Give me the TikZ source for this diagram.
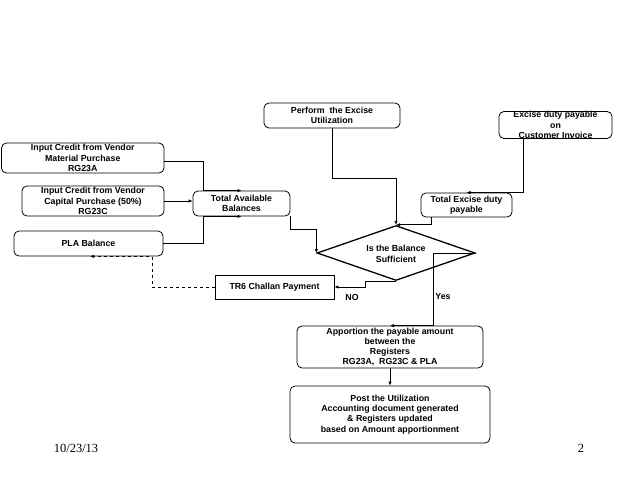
\documentclass[tikz,border=0pt]{standalone}
\usepackage{fontspec}
\setmainfont{Liberation Serif}
\newfontfamily\arialf{Liberation Sans}
\usetikzlibrary{arrows.meta,shapes.geometric,calc}
\tikzset{
  txt/.style={font=\arialf\bfseries\fontsize{8.8}{10.3}\selectfont, align=center, inner sep=0pt},
  rbox/.style={txt, draw, rounded corners=5pt, line width=0.8pt},
  sbox/.style={txt, draw, line width=0.8pt},
  dbox/.style={txt, draw, diamond, aspect=2.87, line width=1.3pt},
  conn/.style={line width=0.8pt, -{Latex[length=4pt,width=3.5pt]}},
  foot/.style={font=\fontsize{12.5}{14}\selectfont, inner sep=0pt}
}
\begin{document}
\begin{tikzpicture}[x=1pt,y=1pt]
\useasboundingbox (0,0) rectangle (638,-479);
% boxes
\node[rbox, minimum width=162.5pt, minimum height=30pt] (mat) at (82.75,-158) {Input Credit from Vendor\\Material Purchase\\RG23A};
\node[rbox, minimum width=142pt, minimum height=30pt] (cap) at (93,-201) {Input Credit from Vendor\\Capital Purchase (50\%)\\RG23C};
\node[rbox, minimum width=149pt, minimum height=25pt] (pla) at (88.5,-243.5) {PLA Balance};
\node[rbox, minimum width=97pt, minimum height=25pt] (tot) at (241.5,-203.5) {Total Available\\Balances};
\node[rbox, minimum width=136pt, minimum height=25pt] (perf) at (332,-115.5) {Perform \ the Excise\\Utilization};
\node[rbox, minimum width=113pt, minimum height=26pt] (cust) at (555.5,-125) {Excise duty payable\\on\\Customer Invoice};
\node[rbox, minimum width=91pt, minimum height=24pt] (texc) at (466.5,-205) {Total Excise duty\\payable};
\node[draw, diamond, line width=1.3pt, minimum width=158pt, minimum height=55pt, inner sep=0pt] (dia) at (396,-253) {};
\node[txt] (diat) at (396,-254) {Is the Balance\\Sufficient};
\node[sbox, minimum width=119pt, minimum height=24pt] (tr6) at (274.5,-287) {TR6 Challan Payment};
\node[rbox, minimum width=186pt, minimum height=42pt] (app) at (390,-347) {Apportion the payable amount\\between the\\Registers\\RG23A, \ RG23C \& PLA};
\node[rbox, minimum width=200pt, minimum height=57pt] (post) at (390,-414.5) {Post the Utilization\\Accounting document generated\\\& Registers updated\\based on Amount apportionment};
% labels
\node[txt] (no) at (352,-297) {NO};
\node[txt] (yes) at (443,-297) {Yes};
% connectors
\draw[conn] ([yshift=-3pt]mat.east) -| ([xshift=-38pt]tot.north) -- (tot.north);
\draw[conn] (cap.east) -- (cap.east -| tot.west);
\draw[conn] (pla.east) -| ([xshift=-38pt]tot.south) -- (tot.south);
\draw[conn] (tot.south east) -- ++(0,-13) -| (dia.west);
\draw[conn] (perf.south) -- ++(0,-50) -| (dia.north);
\draw[conn] ([xshift=-32pt]cust.south) |- (texc.north);
\draw[conn] ([xshift=-35pt]texc.south) |- (dia.north);
\draw[conn] (dia.south) -- ++(-31,0) |- (tr6.east);
\draw[conn, dashed] (tr6.west) -| ([xshift=63.5pt]pla.south) -- ([xshift=1.5pt]pla.south);
\draw[conn] (dia.east) -- ++(-42,0) |- (app.north);
\draw[conn] (app.south) -- (post.north);
% footer
\node[foot] (date) at (76,-448) {10/23/13};
\node[foot] (page) at (581,-448) {2};
\end{tikzpicture}
\end{document}
